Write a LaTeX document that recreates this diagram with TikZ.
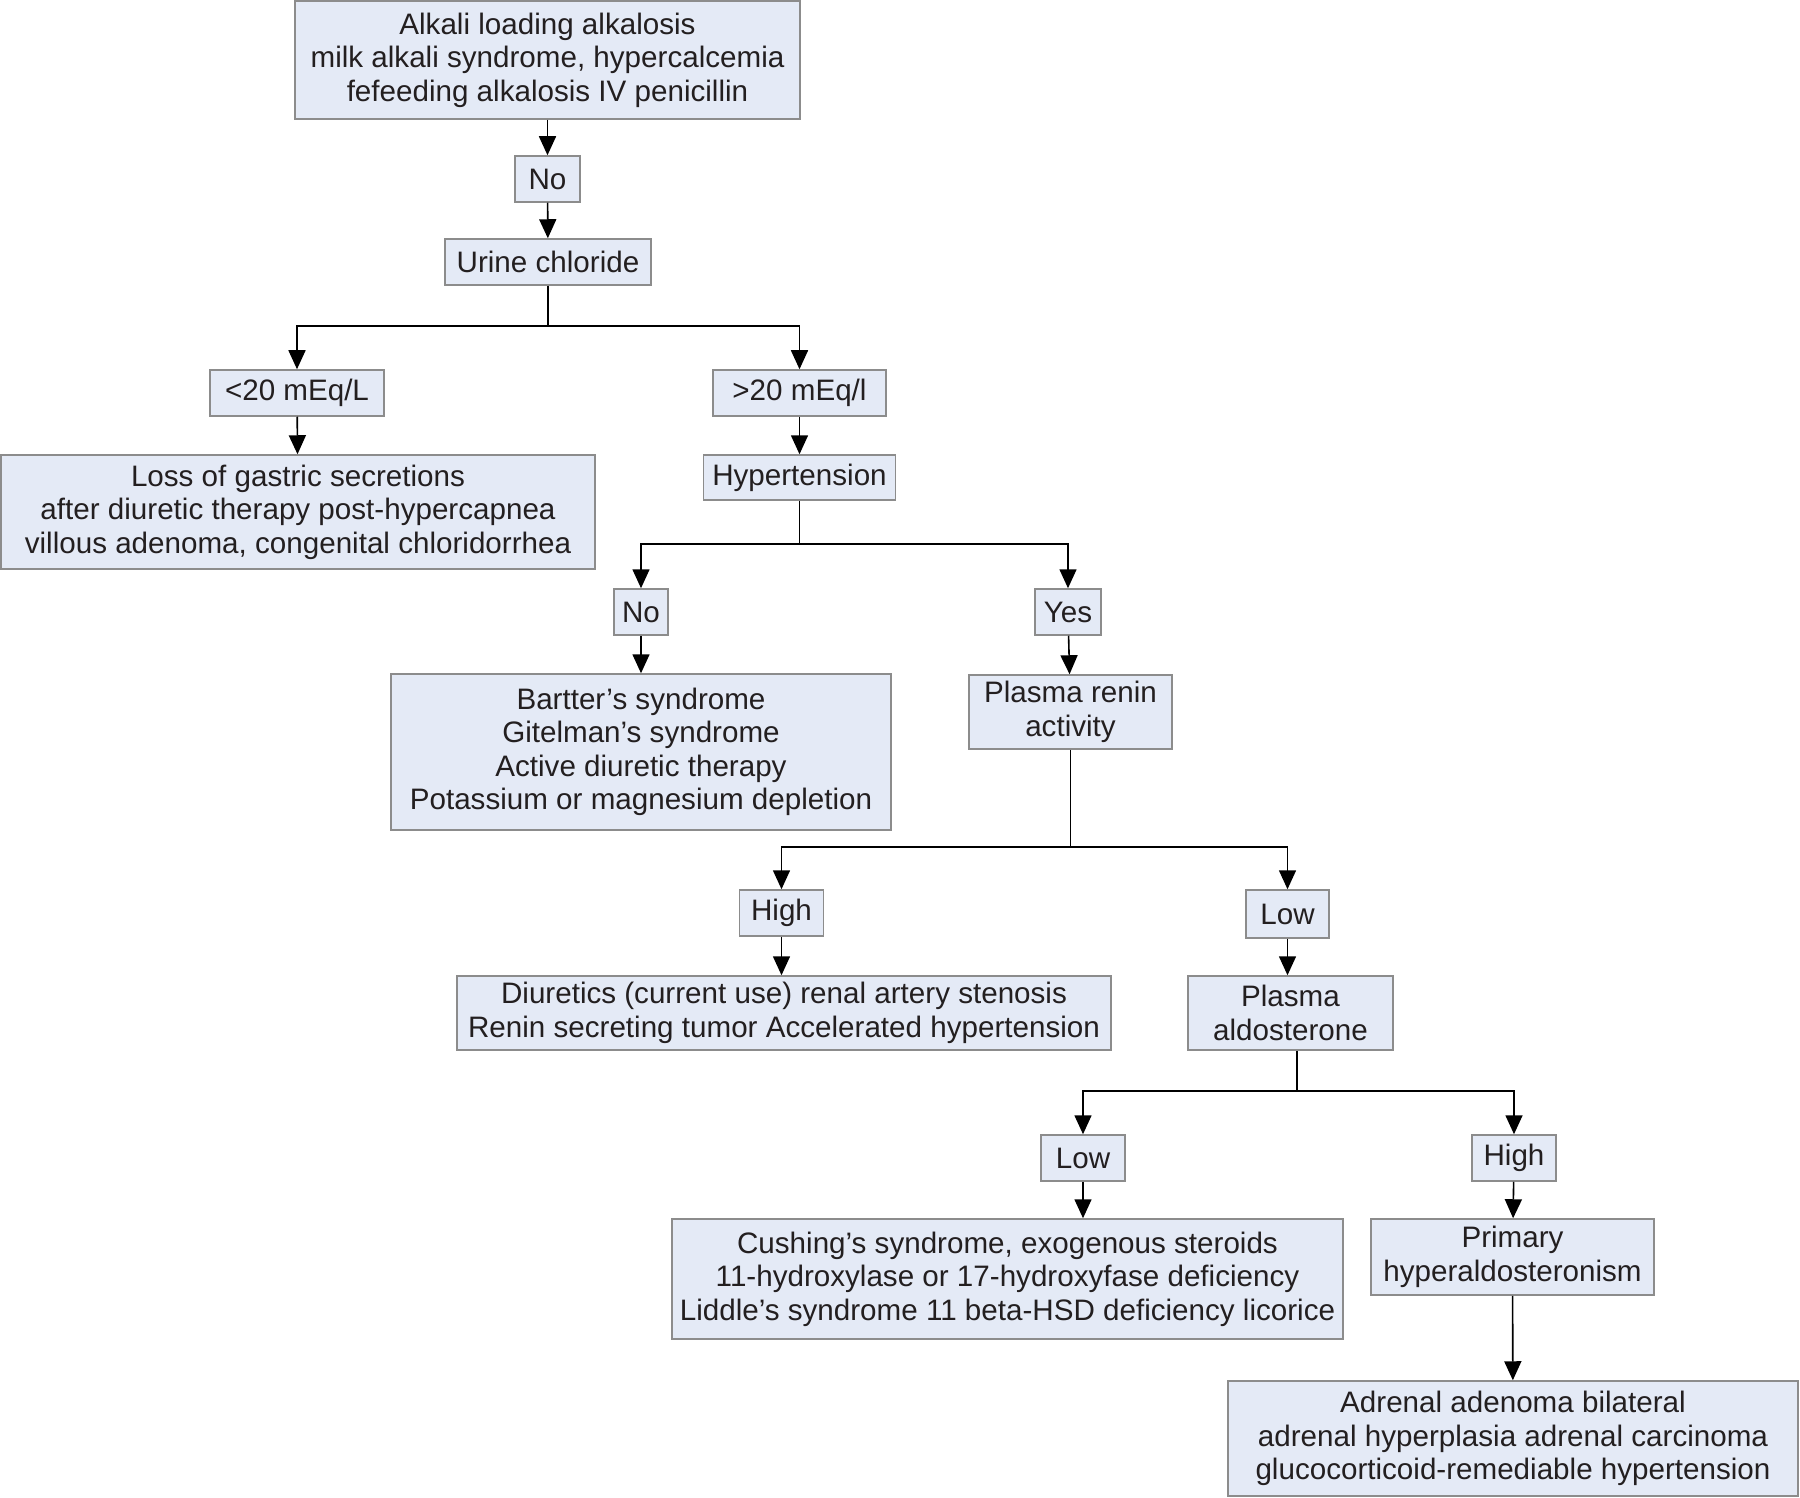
\documentclass[tikz,border=0pt]{standalone}
\usepackage{fontspec}
\setmainfont{Liberation Sans}
\usetikzlibrary{arrows.meta}
\definecolor{boxfill}{HTML}{E4EAF6}
\definecolor{boxline}{HTML}{8C8C8C}
\definecolor{inktext}{HTML}{231F20}
\tikzset{
  flowbox/.style={
    draw=boxline, fill=boxfill, line width=0.75pt,
    inner sep=0pt, align=center, text=inktext,
    font=\fontsize{14.8}{16.75}\selectfont
  },
  sz/.style 2 args={minimum width=#1*0.5pt, minimum height=#2*0.5pt},
  arr/.style={line width=0.8pt, -{Triangle[length=9.5pt,width=8.5pt]}},
  ln/.style={line width=0.8pt}
}
\begin{document}
\begin{tikzpicture}[x=0.5pt, y=-0.5pt]
\useasboundingbox (0,0) rectangle (1800,1498);

% top part
\node[flowbox, sz={505}{118}] (alkali) at (547.5,60)
  {Alkali loading alkalosis\\milk alkali syndrome, hypercalcemia\\fefeeding alkalosis IV penicillin};
\node[flowbox, sz={65}{46}] (no1) at (547.5,179) {No};
\node[flowbox, sz={206}{46}] (urine) at (548,262) {Urine chloride};

% urine chloride branches
\node[flowbox, sz={174}{46}] (low20) at (297,393) {<20 mEq/L};
\node[flowbox, sz={173}{46}] (high20) at (799.5,393) {>20 mEq/l};
\node[flowbox, sz={594}{114}] (loss) at (298,512)
  {Loss of gastric secretions\\after diuretic therapy post-hypercapnea\\villous adenoma, congenital chloridorrhea};
\node[flowbox, sz={192}{45}] (hyper) at (799.5,477.5) {Hypertension};

% hypertension branches
\node[flowbox, sz={54}{46}] (no2) at (641,612) {No};
\node[flowbox, sz={66}{46}] (yes) at (1068,612) {Yes};
\node[flowbox, sz={500}{156}] (bartter) at (641,752)
  {Bartter’s syndrome\\Gitelman’s syndrome\\Active diuretic therapy\\Potassium or magnesium depletion};
\node[flowbox, sz={203}{74}] (renin) at (1070.5,712) {Plasma renin\\activity};

% renin branches
\node[flowbox, sz={84}{46}] (rhigh) at (781.5,913) {High};
\node[flowbox, sz={83}{48}] (rlow) at (1287.5,914) {Low};
\node[flowbox, sz={654}{74}] (diuret) at (784,1013)
  {Diuretics (current use) renal artery stenosis\\Renin secreting tumor Accelerated hypertension};
\node[flowbox, sz={205}{74}] (aldo) at (1290.5,1013) {Plasma\\aldosterone};

% aldosterone branches
\node[flowbox, sz={84}{46}] (alow) at (1083,1158) {Low};
\node[flowbox, sz={84}{46}] (ahigh) at (1514,1158) {High};
\node[flowbox, sz={671}{120}] (cushing) at (1007.5,1279)
  {Cushing’s syndrome, exogenous steroids\\11-hydroxylase or 17-hydroxyfase deficiency\\Liddle’s syndrome 11 beta-HSD deficiency licorice};
\node[flowbox, sz={283}{76}] (primary) at (1512.5,1257) {Primary\\hyperaldosteronism};
\node[flowbox, sz={570}{115}] (adrenal) at (1513,1438.5)
  {Adrenal adenoma bilateral\\adrenal hyperplasia adrenal carcinoma\\glucocorticoid-remediable hypertension};

% split points
\coordinate (s1) at (548,326);
\coordinate (s2) at (799.5,544);
\coordinate (s3) at (1070.5,847);
\coordinate (s4) at (1297,1091);

% connectors
\draw[arr] (alkali) -- (no1);
\draw[arr] (no1) -- (urine);
\draw[ln] (urine) -- (s1);
\draw[arr] (s1) -| (low20);
\draw[arr] (s1) -| (high20);
\draw[arr] (low20) -- (loss);
\draw[arr] (high20) -- (hyper);
\draw[ln] (hyper) -- (s2);
\draw[arr] (s2) -| (no2);
\draw[arr] (s2) -| (yes);
\draw[arr] (no2) -- (bartter);
\draw[arr] (yes) -- (renin);
\draw[ln] (renin) -- (s3);
\draw[arr] (s3) -| (rhigh);
\draw[arr] (s3) -| (rlow);
\draw[arr] (rhigh) -- (rhigh |- diuret.north);
\draw[arr] (rlow) -- (rlow |- aldo.north);
\draw[ln] (aldo.south -| s4) -- (s4);
\draw[arr] (s4) -| (alow);
\draw[arr] (s4) -| (ahigh);
\draw[arr] (alow) -- (alow |- cushing.north);
\draw[arr] (ahigh) -- (primary);
\draw[arr] (primary) -- (adrenal);
\end{tikzpicture}
\end{document}
